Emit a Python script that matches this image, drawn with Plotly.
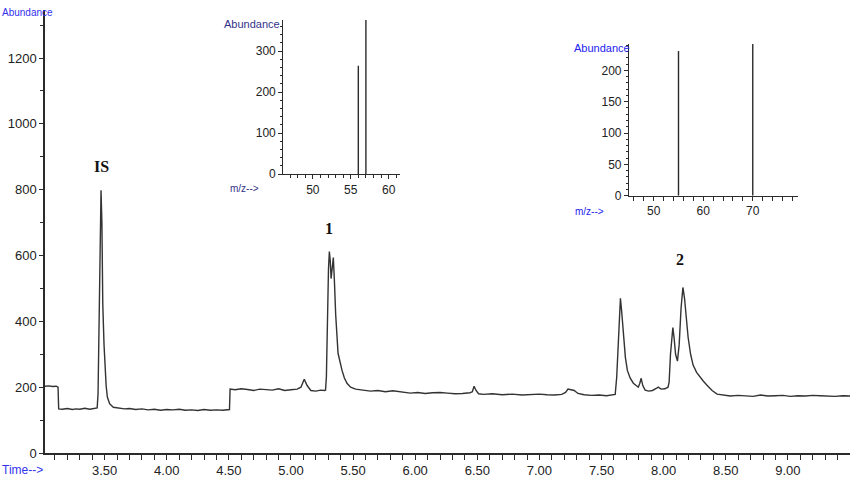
import plotly.graph_objects as go

# ---------------- data ----------------
# Total ion chromatogram (retention time in min, abundance)
rt = [3.02, 3.05, 3.08, 3.11, 3.125, 3.13, 3.16, 3.20, 3.24, 3.27, 3.30, 3.34, 3.38, 3.41,
      3.44, 3.447, 3.457, 3.465, 3.471, 3.478, 3.485, 3.495, 3.503, 3.512, 3.522, 3.54, 3.57,
      3.62, 3.66, 3.70, 3.75, 3.80, 3.85, 3.90, 3.95, 4.00, 4.05, 4.10, 4.15, 4.20, 4.25,
      4.30, 4.35, 4.40, 4.45, 4.505, 4.51, 4.55, 4.60, 4.65, 4.70, 4.75, 4.80, 4.85, 4.90,
      4.95, 5.00, 5.05, 5.08, 5.107, 5.13, 5.16, 5.20, 5.24, 5.27, 5.278, 5.285, 5.293,
      5.302, 5.309, 5.316, 5.323, 5.332, 5.341, 5.35, 5.36, 5.379, 5.395, 5.411, 5.43,
      5.451, 5.48, 5.52, 5.58, 5.64, 5.70, 5.76, 5.82, 5.88, 5.96, 6.02, 6.08, 6.14, 6.20,
      6.26, 6.32, 6.38, 6.44, 6.46, 6.474, 6.49, 6.51, 6.55, 6.62, 6.70, 6.78, 6.86, 6.94,
      7.00, 7.06, 7.12, 7.18, 7.21, 7.23, 7.25, 7.28, 7.31, 7.36, 7.42, 7.48, 7.54, 7.59,
      7.61, 7.622, 7.633, 7.643, 7.652, 7.662, 7.676, 7.692, 7.708, 7.73, 7.756, 7.78,
      7.796, 7.808, 7.819, 7.832, 7.851, 7.88, 7.91, 7.94, 7.956, 7.98, 8.01, 8.035,
      8.044, 8.055, 8.065, 8.074, 8.084, 8.096, 8.111, 8.125, 8.14, 8.155, 8.168, 8.182,
      8.197, 8.217, 8.237, 8.265, 8.294, 8.32, 8.349, 8.39, 8.43, 8.48, 8.535, 8.60, 8.66,
      8.72, 8.78, 8.84, 8.90, 8.96, 9.02, 9.08, 9.14, 9.20, 9.26, 9.32, 9.38, 9.44, 9.50]
abundance = [203, 204, 202, 203, 200, 134, 133, 135, 132, 134, 133, 136, 133, 134,
             137, 180, 454, 700, 798, 700, 454, 330, 251, 205, 170, 150, 139,
             136, 134, 135, 132, 134, 131, 133, 130, 132, 131, 133, 130, 131, 129,
             132, 130, 131, 130, 132, 194, 192, 195, 193, 190, 194, 192, 191, 195,
             190, 192, 194, 200, 224, 205, 190, 188, 191, 190, 191, 230, 400,
             560, 612, 585, 530, 570, 594, 520, 420, 303, 272, 251, 228,
             212, 200, 194, 191, 188, 190, 186, 189, 185, 182, 184, 181, 183, 184,
             182, 180, 181, 183, 186, 203, 190, 180, 178, 180, 177, 179, 176, 178,
             179, 177, 176, 178, 184, 194, 193, 190, 181, 177, 175, 176, 174, 176,
             178, 230, 320, 420, 470, 430, 351, 290, 251, 228, 212, 204,
             200, 212, 227, 205, 191, 188, 190, 196, 200, 194, 195, 200,
             215, 300, 360, 381, 350, 300, 279, 330, 440, 503, 470, 410,
             351, 300, 267, 245, 230, 218, 206, 190, 179, 176, 173, 175, 174,
             172, 176, 173, 174, 175, 172, 174, 173, 175, 174, 173, 172, 174, 173]

# Mass spectrum of peak 1
ms1_mz = [56, 57]
ms1_ab = [264, 377]

# Mass spectrum of peak 2
ms2_mz = [55, 70]
ms2_ab = [231, 243]

# Peak labels
peak_labels = ["IS", "1", "2"]
peak_rt = [3.471, 5.309, 8.133]
peak_label_ab = [870, 682, 588]

# main x tick labels
x_tick_vals = [3.5, 4.0, 4.5, 5.0, 5.5, 6.0, 6.5, 7.0, 7.5, 8.0, 8.5, 9.0]
x_tick_text = ["3.50", "4.00", "4.50", "5.00", "5.50", "6.00", "6.50", "7.00",
               "7.50", "8.00", "8.50", "9.00"]

# ---------------- layout helpers ----------------
W, H = 850, 481
ML, MR, MT, MB = 45, 0, 10, 28
PW, PH = W - ML - MR, H - MT - MB


def px_x(x):
    return (x - ML) / PW


def px_y(y):
    return (H - MB - y) / PH


NARROW = "Liberation Sans Narrow, Arial Narrow, Liberation Sans, Arial, sans-serif"
SANS = "Liberation Sans, Arial, sans-serif"
SERIF = "Liberation Serif, Times New Roman, serif"
LINE = "#2b2b2b"

fig = go.Figure()

fig.add_trace(go.Scatter(x=rt, y=abundance, mode="lines",
                         line=dict(color="#333333", width=1.4),
                         xaxis="x", yaxis="y", showlegend=False, hoverinfo="skip"))


def stick_xy(mz, ab):
    xs, ys = [], []
    for m, a in zip(mz, ab):
        xs += [m, m, None]
        ys += [0, a, None]
    return xs, ys


sx1, sy1 = stick_xy(ms1_mz, ms1_ab)
fig.add_trace(go.Scatter(x=sx1, y=sy1, mode="lines", line=dict(color=LINE, width=1.4),
                         xaxis="x2", yaxis="y2", showlegend=False, hoverinfo="skip"))
sx2, sy2 = stick_xy(ms2_mz, ms2_ab)
fig.add_trace(go.Scatter(x=sx2, y=sy2, mode="lines", line=dict(color=LINE, width=1.4),
                         xaxis="x3", yaxis="y3", showlegend=False, hoverinfo="skip"))

axis_common = dict(showgrid=False, zeroline=False, showline=True, linecolor=LINE,
                   ticks="outside", tickcolor=LINE, fixedrange=True)

fig.update_layout(
    width=W, height=H,
    margin=dict(l=ML, r=MR, t=MT, b=MB),
    paper_bgcolor="white", plot_bgcolor="white",
    xaxis=dict(axis_common, domain=[0, 1], range=[3.02, 9.50], anchor="y",
               tickvals=x_tick_vals, ticktext=x_tick_text, ticklen=5, linewidth=1.5,
               tickfont=dict(family=NARROW, size=13, color="#222"),
               minor=dict(dtick=0.1, tick0=3.0, ticks="outside", ticklen=5, tickcolor=LINE)),
    yaxis=dict(axis_common, domain=[0, 1], range=[0, 1346], anchor="x",
               dtick=200, ticklen=4, linewidth=1.5,
               tickfont=dict(family=NARROW, size=13, color="#222"),
               minor=dict(dtick=100, ticks="outside", ticklen=3, tickcolor=LINE)),
    xaxis2=dict(axis_common, domain=[px_x(283.3), px_x(400)], range=[46.1, 61.5],
                anchor="y2", dtick=5, ticklen=4, linewidth=1.2,
                tickfont=dict(family=SANS, size=12, color="#222"),
                minor=dict(dtick=1, ticks="outside", ticklen=3, tickcolor=LINE)),
    yaxis2=dict(axis_common, domain=[px_y(174), px_y(20)], range=[0, 376],
                anchor="x2", dtick=100, ticklen=4, linewidth=1.2,
                tickfont=dict(family=SANS, size=12, color="#222"),
                minor=dict(dtick=20, ticks="outside", ticklen=2, tickcolor=LINE)),
    xaxis3=dict(axis_common, domain=[px_x(629), px_x(798.3)], range=[45.0, 79.2],
                anchor="y3", dtick=10, ticklen=4, linewidth=1.2,
                tickfont=dict(family=SANS, size=12, color="#222"),
                minor=dict(dtick=2, ticks="outside", ticklen=4, tickcolor=LINE)),
    yaxis3=dict(axis_common, domain=[px_y(195.7), px_y(44)], range=[0, 242],
                anchor="x3", dtick=50, ticklen=4, linewidth=1.2,
                tickfont=dict(family=SANS, size=12, color="#222"),
                minor=dict(dtick=10, ticks="outside", ticklen=2, tickcolor=LINE)),
)

# axis titles as annotations
texts = [
    ("Abundance", 0, 12, "#3333ee", NARROW, 10, "left"),
    ("Time-->", 0, 470, "#3333ee", NARROW, 12, "left"),
    ("Abundance", 222, 24, "#333388", SANS, 11, "left"),
    ("m/z-->", 228, 188, "#333388", SANS, 10, "left"),
    ("Abundance", 572, 48, "#2222ee", SANS, 11, "left"),
    ("m/z-->", 573, 211, "#2222ee", SANS, 10, "left"),
]
for t, x, y, c, f, s, xa in texts:
    fig.add_annotation(text=t, x=px_x(x), y=px_y(y), xref="paper", yref="paper",
                       xanchor=xa, yanchor="middle", showarrow=False,
                       font=dict(family=f, size=s, color=c))

for lab, xv, yv in zip(peak_labels, peak_rt, peak_label_ab):
    fig.add_annotation(text="<b>" + lab + "</b>", x=xv, y=yv, xref="x", yref="y",
                       showarrow=False, font=dict(family=SERIF, size=16, color="#111"))

fig.write_html("out.html")
